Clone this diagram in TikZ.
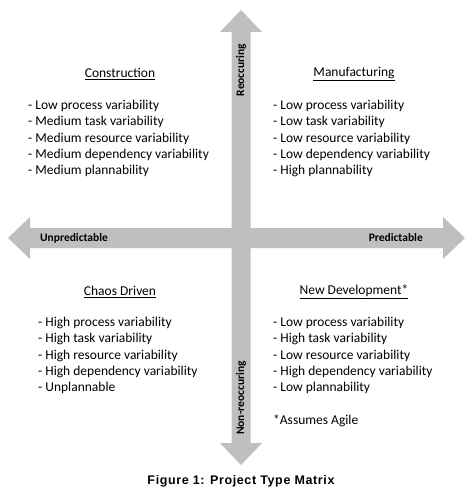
\documentclass[tikz,border=0pt]{standalone}
\usepackage{fontspec}
\setmainfont{Carlito}
\newfontfamily\capfont[LetterSpace=5]{Liberation Sans}
\definecolor{arrowgray}{RGB}{191,191,191}

\newcommand*{\midx}{241}
\newcommand*{\midy}{238}
\newcommand*{\shaft}{9.5}
\newcommand*{\headw}{21}

\begin{document}
\begin{tikzpicture}
[
	x=1pt,y=-1pt,
	title/.style={font=\fontsize{13.5}{15}\selectfont,inner sep=0pt},
	itemlist/.style={font=\fontsize{13.5}{16.3}\selectfont,align=left,anchor=north west,inner sep=0pt},
	axislabel/.style={font=\fontsize{11.5}{13}\selectfont\bfseries,inner sep=0pt}
]
	\useasboundingbox[fill=white] (0,0) rectangle (474,500);

	% arrows
	\fill[arrowgray] (\midx-\shaft,32) -- (\midx-\headw,32) -- (\midx,10) -- (\midx+\headw,32) -- (\midx+\shaft,32)
		-- (\midx+\shaft,443) -- (\midx+\headw,443) -- (\midx,465) -- (\midx-\headw,443) -- (\midx-\shaft,443) -- cycle;
	\fill[arrowgray] (30,\midy-10) -- (30,\midy-\headw) -- (8,\midy) -- (30,\midy+\headw) -- (30,\midy+10)
		-- (443,\midy+10) -- (443,\midy+\headw) -- (465,\midy) -- (443,\midy-\headw) -- (443,\midy-10) -- cycle;

	\node[axislabel,anchor=west] (unpred) at (40,\midy) {Unpredictable};
	\node[axislabel,anchor=east] (pred) at (423,\midy) {Predictable};
	\node[axislabel,rotate=90] (reocc) at (\midx,70) {Reoccuring};
	\node[axislabel,rotate=90] (nonreocc) at (\midx,398) {Non-reoccuring};

	% quadrants
	\node[title] (constr) at (120,74) {\underline{Construction}};
	\node[itemlist] (constrlist) at (28,100) {- Low process variability\\- Medium task variability\\- Medium resource variability\\- Medium dependency variability\\- Medium plannability};

	\node[title] (manuf) at (354,74) {\underline{Manufacturing}};
	\node[itemlist] (manuflist) at (273,100) {- Low process variability\\- Low task variability\\- Low resource variability\\- Low dependency variability\\- High plannability};

	\node[title] (chaos) at (120,292) {\underline{Chaos Driven}};
	\node[itemlist] (chaoslist) at (38,317) {- High process variability\\- High task variability\\- High resource variability\\- High dependency variability\\- Unplannable};

	\node[title] (newdev) at (354,292) {\underline{New Development*}};
	\node[itemlist] (newdevlist) at (273,317) {- Low process variability\\- High task variability\\- Low resource variability\\- High dependency variability\\- Low plannability};
	\node[itemlist,anchor=west] (agile) at (273,421) {*Assumes Agile};

	% caption
	\node[font=\capfont\fontsize{12.5}{15}\selectfont\bfseries] (caption) at (241,481) {Figure 1: Project Type Matrix};

\end{tikzpicture}
\end{document}
